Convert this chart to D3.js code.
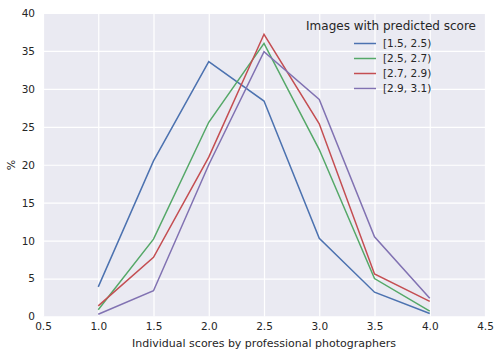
<!DOCTYPE html>
<html><head><meta charset="utf-8">
<script src="https://cdn.jsdelivr.net/npm/d3@7"></script>
<style>body{margin:0;background:#fff;} text{font-family:"DejaVu Sans",sans-serif;}</style>
</head><body><svg id="c" width="500" height="356"></svg>
<script>
const xValues = [1.0, 1.5, 2.0, 2.5, 3.0, 3.5, 4.0];
const seriesNames = ["[1.5, 2.5)", "[2.5, 2.7)", "[2.7, 2.9)", "[2.9, 3.1)"];
const s1 = [3.9, 20.5, 33.6, 28.4, 10.3, 3.2, 0.4];
const s2 = [0.9, 10.2, 25.6, 36.0, 22.0, 5.0, 0.7];
const s3 = [1.4, 7.8, 21.0, 37.2, 25.4, 5.6, 2.0];
const s4 = [0.3, 3.4, 20.0, 34.9, 28.6, 10.5, 2.4];
const colors = ["#4C72B0", "#55A868", "#C44E52", "#8172B2"];
const xTicks = [0.5, 1.0, 1.5, 2.0, 2.5, 3.0, 3.5, 4.0, 4.5];
const yTicks = [0, 5, 10, 15, 20, 25, 30, 35, 40];

const svg = d3.select("#c");
const m = {l: 43, r: 485, t: 13, b: 316.5};
const x = d3.scaleLinear().domain([0.5, 4.5]).range([m.l, m.r]);
const y = d3.scaleLinear().domain([0, 40]).range([m.b, m.t]);

svg.append("rect").attr("x", m.l).attr("y", m.t).attr("width", m.r - m.l).attr("height", m.b - m.t).attr("fill", "#EAEAF2");

const gx = svg.append("g").attr("transform", `translate(0,${m.b})`)
  .call(d3.axisBottom(x).tickValues(xTicks).tickFormat(d3.format(".1f")).tickSize(-(m.b - m.t)).tickPadding(6));
const gy = svg.append("g").attr("transform", `translate(${m.l},0)`)
  .call(d3.axisLeft(y).tickValues(yTicks).tickFormat(d3.format("d")).tickSize(-(m.r - m.l)).tickPadding(8));
[gx, gy].forEach(g => {
  g.select(".domain").remove();
  g.selectAll(".tick line").attr("stroke", "#fff").attr("stroke-width", 1.2);
  g.selectAll(".tick text").attr("fill", "#262626").style("font-size", "10.5px");
});

const data = [s1, s2, s3, s4];
const line = d3.line().x((d, i) => x(xValues[i])).y(d => y(d));
data.forEach((s, k) => {
  svg.append("path").datum(s).attr("d", line).attr("fill", "none")
    .attr("stroke", colors[k]).attr("stroke-width", 1.5);
});

svg.append("text").attr("x", 264).attr("y", 347).attr("text-anchor", "middle")
  .attr("fill", "#262626").style("font-size", "11px").text("Individual scores by professional photographers");
svg.append("text").attr("transform", "translate(15,165) rotate(-90)").attr("text-anchor", "middle")
  .attr("fill", "#262626").style("font-size", "11px").text("%");

const lg = svg.append("g");
lg.append("text").attr("x", 391).attr("y", 30).attr("text-anchor", "middle")
  .attr("fill", "#262626").style("font-size", "12px").text("Images with predicted score");
seriesNames.forEach((n, k) => {
  const yy = 43.5 + k * 15;
  lg.append("line").attr("x1", 354).attr("x2", 376).attr("y1", yy).attr("y2", yy)
    .attr("stroke", colors[k]).attr("stroke-width", 1.5);
  lg.append("text").attr("x", 383).attr("y", yy + 3.8).attr("fill", "#262626")
    .style("font-size", "10.5px").text(n);
});
</script></body></html>
